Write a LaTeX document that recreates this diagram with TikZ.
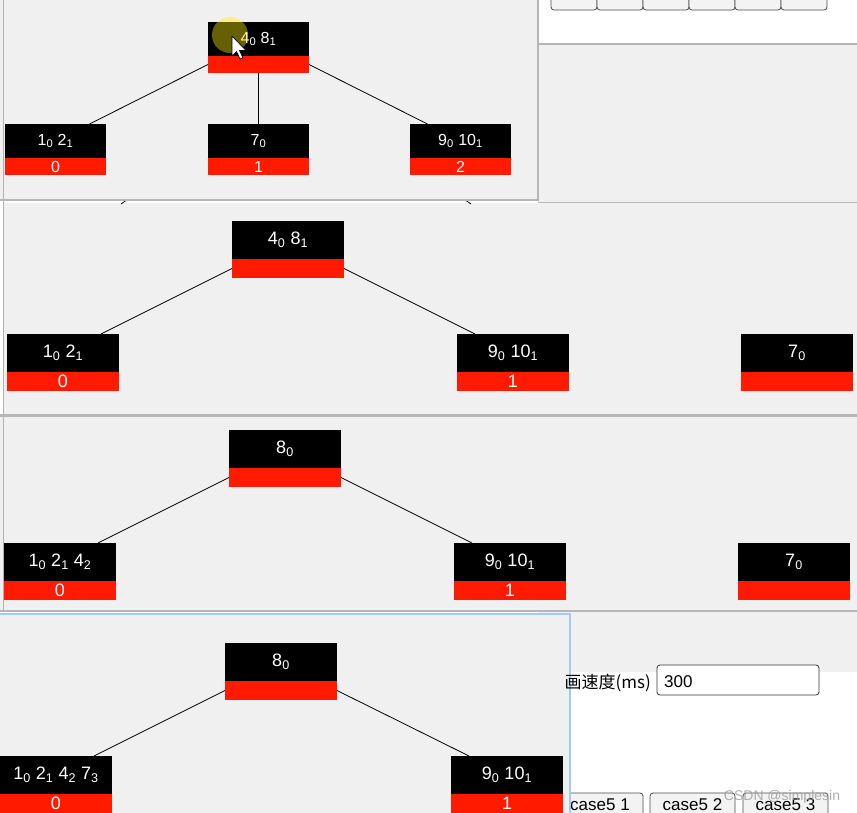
\documentclass[tikz,border=0pt]{standalone}
\usepackage{fontspec}
\setmainfont{Liberation Sans}
\newfontfamily\cjkfont{Noto Sans CJK SC}
\usetikzlibrary{positioning}
\definecolor{nodered}{RGB}{255,26,0}
\definecolor{panelgray}{RGB}{240,240,240}
\definecolor{rimgray}{RGB}{182,182,182}
\definecolor{winblue}{RGB}{168,200,240}
\definecolor{btngray}{RGB}{243,243,243}
\newcommand{\ks}[1]{\textsubscript{#1}}
\newcommand{\keyfont}{\fontsize{18}{18}\selectfont}
\newcommand{\keyfontsm}{\fontsize{16}{16}\selectfont}
\tikzset{
  key/.style={fill=black, text=white, minimum width=112pt, minimum height=38pt, inner sep=0pt, outer sep=0pt, anchor=north west, font=\keyfont},
  idx/.style={fill=nodered, text=white, minimum width=112pt, minimum height=19pt, inner sep=0pt, outer sep=0pt, font=\keyfont},
  keysm/.style={key, minimum width=101pt, minimum height=34pt, font=\keyfontsm},
  idxsm/.style={idx, minimum width=101pt, minimum height=17pt, font=\keyfontsm},
  treeline/.style={black, line width=0.8pt},
  btn/.style={fill=btngray, draw=black!70, line width=0.8pt, rounded corners=3pt}
}

\begin{document}
\begin{tikzpicture}[x=1pt, y=-1pt, >=latex]
	\useasboundingbox (0,0) rectangle (857,813);
	\clip (0,0) rectangle (857,813);
	%Hintergrund
	\fill[white] (0,0) rectangle (857,813);
	\foreach \xa/\xb in {551/597, 597/643, 643/689, 689/735, 735/781, 781/827}
		\draw[btn] (\xa,-10) rectangle (\xb,10);
	\fill[panelgray] (538,44) rectangle (857,672);
	\draw[rimgray, line width=2pt] (538,44) -- (857,44);
	% untere Knoepfe
	\foreach \xa/\xb/\t in {557/643/1, 650/735/2, 743/828/3}
		\draw[btn] (\xa,793) rectangle (\xb,830) node[midway, black, anchor=base, yshift=1.5pt, inner sep=0pt, font=\fontsize{17}{17}\selectfont] {case5 \t};
	% Fenster 2 und 3
	\fill[panelgray] (3,203) rectangle (857,415);
	\draw[rimgray, line width=1pt] (538,203) -- (857,203);
	\fill[panelgray] (0,416) rectangle (857,610);
	\draw[rimgray, line width=3pt] (0,415.5) -- (857,415.5);
	\draw[rimgray, line width=2pt] (0,611) -- (857,611);
	\draw[gray!60, line width=0.8pt] (3,0) -- (3,610);
	\draw[treeline] (121,204) -- (131,197);
	\draw[treeline] (461,197) -- (471,204);
	% Fenster 1
	\fill[panelgray] (0,0) rectangle (537,199);
	\draw[rimgray, line width=2pt] (538,0) -- (538,200) -- (0,200);
	\draw[gray!60, line width=0.8pt] (3,0) -- (3,199);
	% Fenster 4
	\fill[panelgray] (0,614) rectangle (569,813);
	\draw[winblue, line width=2pt] (0,614) -- (570,614) -- (570,813);
	% Eingabe
	\node[anchor=base east, inner sep=0pt, font=\cjkfont\fontsize{17}{17}\selectfont] (speed) at (651,688) {画速度(ms)};
	\draw[fill=white, draw=black!80, line width=0.8pt, rounded corners=3pt] (657,665) rectangle (819,695);
	\node[anchor=base west, inner sep=0pt, font=\fontsize{17}{17}\selectfont] (val) at (664,687) {300};
	\node[text=gray!80, opacity=0.8, font=\fontsize{14}{14}\selectfont] (mark) at (782,797) {CSDN @simplesin};

	%Baum 1
	\node[keysm] (a1) at (208,22) {4\ks0 8\ks1};
	\node[idxsm, below=0pt of a1] (a1i) {};
	\node[keysm] (b1) at (5,124) {1\ks0 2\ks1};
	\node[idxsm, below=0pt of b1] (b1i) {0};
	\node[keysm] (c1) at (208,124) {7\ks0};
	\node[idxsm, below=0pt of c1] (c1i) {1};
	\node[keysm] (d1) at (410,124) {9\ks0 10\ks1};
	\node[idxsm, below=0pt of d1] (d1i) {2};
	\draw[treeline] (a1i.west) -- ([xshift=34pt]b1.north);
	\draw[treeline] (a1i.south) -- (c1.north);
	\draw[treeline] (a1i.east) -- ([xshift=-33pt]d1.north);
	% Mauszeiger
	\fill[yellow, opacity=0.4] (230,35) circle (18);
	\draw[fill=white, line width=0.7pt, line join=round] (232,36) -- (232,56) -- (236.5,51.5) -- (240,59) -- (243,58) -- (239.5,50.5) -- (246,50.5) -- cycle;

	%Baum 2
	\node[key] (a2) at (232,221) {4\ks0 8\ks1};
	\node[idx, below=0pt of a2] (a2i) {};
	\node[key] (b2) at (7,334) {1\ks0 2\ks1};
	\node[idx, below=0pt of b2] (b2i) {0};
	\node[key] (c2) at (457,334) {9\ks0 10\ks1};
	\node[idx, below=0pt of c2] (c2i) {1};
	\node[key] (d2) at (741,334) {7\ks0};
	\node[idx, below=0pt of d2] (d2i) {};
	\draw[treeline] (a2i.west) -- ([xshift=38pt]b2.north);
	\draw[treeline] (a2i.east) -- ([xshift=-38pt]c2.north);

	%Baum 3
	\node[key] (a3) at (229,430) {8\ks0};
	\node[idx, below=0pt of a3] (a3i) {};
	\node[key] (b3) at (4,543) {1\ks0 2\ks1 4\ks2};
	\node[idx, below=0pt of b3] (b3i) {0};
	\node[key] (c3) at (454,543) {9\ks0 10\ks1};
	\node[idx, below=0pt of c3] (c3i) {1};
	\node[key] (d3) at (738,543) {7\ks0};
	\node[idx, below=0pt of d3] (d3i) {};
	\draw[treeline] (a3i.west) -- ([xshift=38pt]b3.north);
	\draw[treeline] (a3i.east) -- ([xshift=-38pt]c3.north);

	%Baum 4
	\node[key] (a4) at (225,643) {8\ks0};
	\node[idx, below=0pt of a4] (a4i) {};
	\node[key] (b4) at (0,756) {1\ks0 2\ks1 4\ks2 7\ks3};
	\node[idx, below=0pt of b4] (b4i) {0};
	\node[key] (c4) at (451,756) {9\ks0 10\ks1};
	\node[idx, below=0pt of c4] (c4i) {1};
	\draw[treeline] (a4i.west) -- ([xshift=38pt]b4.north);
	\draw[treeline] (a4i.east) -- ([xshift=-38pt]c4.north);
\end{tikzpicture}
\end{document}
